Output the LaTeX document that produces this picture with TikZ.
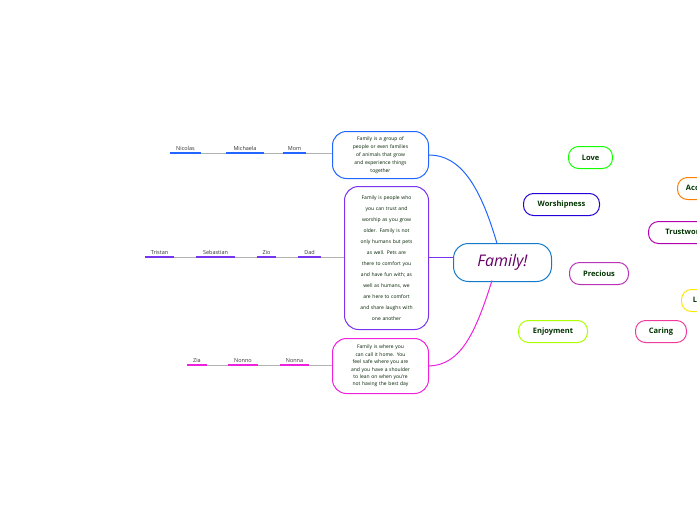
\documentclass[tikz,border=0pt]{standalone}
\usepackage{fontspec}
\setmainfont{Open Sans}
\begin{document}
\begin{tikzpicture}[x=1pt,y=-1pt,
 sub/.style={draw,line width=1pt,rounded corners=14pt,align=center,font=\fontsize{5}{8}\selectfont,text=black!70!green!40!black,inner sep=0pt,anchor=north west},
 tag/.style={draw,line width=1pt,rounded corners=10pt,font=\bfseries\fontsize{7.5}{9}\selectfont,text=black!80!green,anchor=north west,minimum height=22pt,inner sep=0pt},
 lab/.style={font=\fontsize{5.5}{7}\selectfont,text=black!80,inner sep=1pt}]
\useasboundingbox (0,0) rectangle (697,520);
\clip (0,0) rectangle (697,520);
\definecolor{colb}{HTML}{2266FF}\definecolor{colp}{HTML}{7733EE}\definecolor{colm}{HTML}{EE22DD}
\node[draw=cyan!60!blue,line width=1pt,rounded corners=15pt,minimum width=98pt,minimum height=38pt,anchor=north west,font=\itshape\fontsize{16}{18}\selectfont,text=violet!80!black] (c) at (453,243) {Family!};
\node[sub,draw=colb,minimum width=96pt,minimum height=47pt,text width=90pt] (s1) at (332,131) {Family is a group of\\people or even families\\of animals that grow\\and experience things\\together};
\node[sub,draw=colp,minimum width=84pt,minimum height=143pt,text width=80pt,font=\fontsize{5}{11}\selectfont] (s2) at (344,186) {Family is people who\\you can trust and\\worship as you grow\\older. Family is not\\only humans but pets\\as well.  Pets are\\there to comfort you\\and have fun with; as\\well as humans, we\\are here to comfort\\and share laughs with\\one another};
\node[sub,draw=colm,minimum width=96pt,minimum height=55pt,text width=90pt,font=\fontsize{5}{7.4}\selectfont] (s3) at (332,338) {Family is where you\\can call it home.  You\\feel safe where you are\\and you have a shoulder\\to lean on when you're\\not having the best day};
\coordinate (ct) at (497,243.5);
\coordinate (cbm) at (492,280.5);
\draw[colb,line width=1pt] (ct) .. controls (480,185) and (460,155) .. (s1.east);
\draw[colp,line width=0.8pt] (453,257) -- (s2.east |- 0,257);
\draw[colm,line width=1pt] (cbm) .. controls (475,335) and (460,365) .. (s3.east);
\foreach \t/\a/\b/\y/\cl in {Mom/283/306/153/colb,Michaela/226/264/153/colb,Nicolas/170/201/153/colb,Dad/298/321/257/colp,Zio/257/276/257/colp,Sebastian/196/235/257/colp,Tristan/145/174/257/colp,Nonna/280/309/365/colm,Nonno/228/258/365/colm,Zia/187/207/365/colm}{
 \node[lab,anchor=south] (n\t) at ({(\a+\b)/2},\y-1.5) {\t};
 \draw[\cl,line width=1.5pt] (\a,\y) -- (\b,\y);}
\draw[gray!60,line width=0.5pt] (306,153) -- (s1.west |- 0,153);
\draw[gray!60,line width=0.5pt] (201,153) -- (226,153) (264,153) -- (283,153);
\draw[gray!60,line width=0.5pt] (321,257) -- (344,257) (174,257) -- (196,257) (235,257) -- (257,257) (276,257) -- (298,257);
\draw[gray!60,line width=0.5pt] (309,365) -- (332,365) (207,365) -- (228,365) (258,365) -- (280,365);
\node[tag,draw=green!90!lime,minimum width=44pt] (t1) at (568,146) {Love};
\node[tag,draw=blue!70!violet,minimum width=76pt] (t2) at (523,193) {Worshipness};
\node[tag,draw=orange,minimum width=60pt] (t3) at (677,177) {Acceptance};
\node[tag,draw=violet!60!magenta,minimum width=80pt] (t4) at (648,221) {Trustworthy};
\node[tag,draw=violet!70!magenta!80,minimum width=59pt] (t5) at (569,262) {Precious};
\node[tag,draw=yellow!90!orange,minimum width=50pt] (t6) at (681,289) {Loyalty};
\node[tag,draw=lime!90!green,minimum width=69pt] (t7) at (518,320) {Enjoyment};
\node[tag,draw=magenta!70!pink,minimum width=51pt] (t8) at (635,320) {Caring};
\end{tikzpicture}
\end{document}
